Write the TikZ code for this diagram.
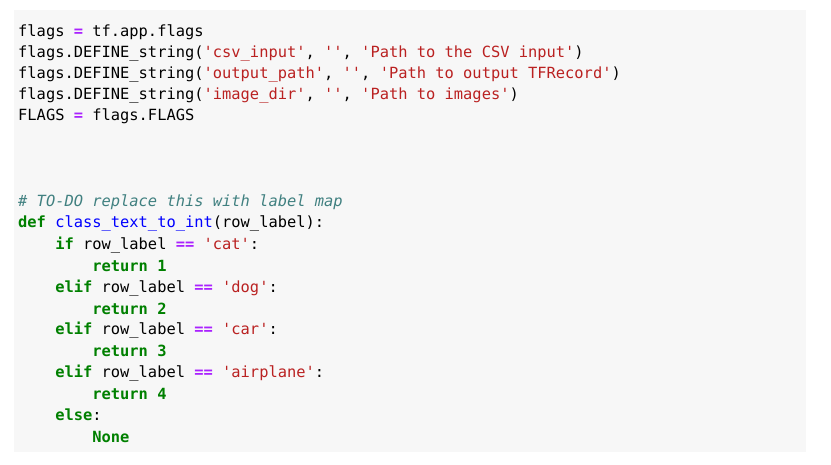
\documentclass[tikz,border=0pt]{standalone}
\usepackage{fontspec}
\setmonofont{DejaVu Sans Mono}
\definecolor{bg}{HTML}{F7F7F7}
\definecolor{op}{HTML}{AA22FF}
\definecolor{str}{HTML}{BA2121}
\definecolor{kw}{HTML}{008000}
\definecolor{cm}{HTML}{408080}
\definecolor{fn}{HTML}{0000FF}
\newcommand{\Op}[1]{\textcolor{op}{\textbf{#1}}}
\newcommand{\St}[1]{\textcolor{str}{#1}}
\newcommand{\Kw}[1]{\textcolor{kw}{\textbf{#1}}}
\newcommand{\Cm}[1]{\textcolor{cm}{\textit{#1}}}
\newcommand{\Fn}[1]{\textcolor{fn}{#1}}
\begin{document}
\begin{tikzpicture}[x=1pt,y=-1pt,
  code/.style={anchor=west,inner sep=0pt,font=\ttfamily\fontsize{15.4}{18}\selectfont,text=black}]
\useasboundingbox (0,0) rectangle (831,464);
\fill[white] (0,0) rectangle (831,464);
\fill[bg] (14,10) rectangle (806,452);
\node[code] (l1) at (18,32) {flags \Op{=} tf.app.flags};
\node[code] (l2) at (18,53) {flags.DEFINE\_string(\St{'csv\_input'}, \St{''}, \St{'Path to the CSV input'})};
\node[code] (l3) at (18,74) {flags.DEFINE\_string(\St{'output\_path'}, \St{''}, \St{'Path to output TFRecord'})};
\node[code] (l4) at (18,95) {flags.DEFINE\_string(\St{'image\_dir'}, \St{''}, \St{'Path to images'})};
\node[code] (l5) at (18,116) {FLAGS \Op{=} flags.FLAGS};
\node[code] (l6) at (18,202) {\Cm{\# TO-DO replace this with label map}};
\node[code] (l7) at (18,223) {\Kw{def} \Fn{class\_text\_to\_int}(row\_label):};
\node[code] (l8) at (18,245) {\phantom{xxxx}\Kw{if} row\_label \Op{==} \St{'cat'}:};
\node[code] (l9) at (18,266) {\phantom{xxxxxxxx}\Kw{return} \Kw{1}};
\node[code] (l10) at (18,288) {\phantom{xxxx}\Kw{elif} row\_label \Op{==} \St{'dog'}:};
\node[code] (l11) at (18,309) {\phantom{xxxxxxxx}\Kw{return} \Kw{2}};
\node[code] (l12) at (18,330) {\phantom{xxxx}\Kw{elif} row\_label \Op{==} \St{'car'}:};
\node[code] (l13) at (18,351) {\phantom{xxxxxxxx}\Kw{return} \Kw{3}};
\node[code] (l14) at (18,373) {\phantom{xxxx}\Kw{elif} row\_label \Op{==} \St{'airplane'}:};
\node[code] (l15) at (18,394) {\phantom{xxxxxxxx}\Kw{return} \Kw{4}};
\node[code] (l16) at (18,415) {\phantom{xxxx}\Kw{else}:};
\node[code] (l17) at (18,437) {\phantom{xxxxxxxx}\Kw{None}};
\end{tikzpicture}
\end{document}
